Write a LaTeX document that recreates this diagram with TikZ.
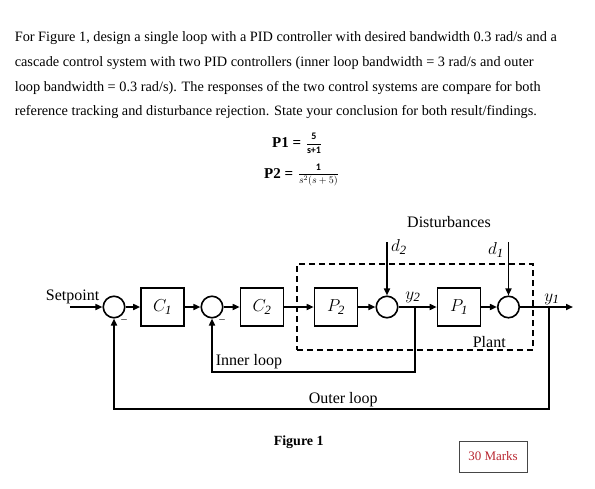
\documentclass[tikz,border=0pt]{standalone}
\usepackage{amsmath}
\usepackage{fontspec}
\setmainfont{Liberation Serif}
\newfontfamily\carlito{Carlito}
\usepackage{tikz}
\usetikzlibrary{
    arrows.meta,
    positioning
}
\usepackage{xcolor}
\definecolor{markred}{RGB}{185,40,50}
\definecolor{markgray}{RGB}{70,70,70}

\begin{document}
\begin{tikzpicture}[
        x=1pt, y=-1pt,
        line width=1.6pt,
        >={Triangle[length=7pt,width=6pt]},
        block/.style={
            draw,
            minimum width=43pt,
            minimum height=38pt,
            inner sep=0pt,
            font=\fontsize{18}{18}\selectfont
        },
        summer/.style={
            draw,
            circle,
            minimum size=21.5pt,
            inner sep=0pt
        },
        lbl/.style={
            inner sep=0pt,
            font=\fontsize{16}{16}\selectfont
        },
        para/.style={
            anchor=base west,
            inner sep=0pt,
            font=\fontsize{14.3}{16}\selectfont
        }
    ]
    \useasboundingbox (0,0) rectangle (595,488);

    % question text
    \node[para] (line1) at (14,41.7) {For Figure 1, design a single loop with a PID controller with desired bandwidth 0.3 rad/s and a};
    \node[para] (line2) at (14,66.7) {cascade control system with two PID controllers (inner loop bandwidth = 3 rad/s and outer};
    \node[para] (line3) at (14,91.7) {loop bandwidth = 0.3 rad/s). The responses of the two control systems are compare for both};
    \node[para] (line4) at (14,115.7) {reference tracking and disturbance rejection. State your conclusion for both result/findings.};

    % plant transfer functions
    \node[inner sep=0pt, font=\bfseries\fontsize{15}{15}\selectfont, anchor=base east] (p1eq) at (302,147) {P1 =};
    \node[inner sep=0pt, anchor=west] (p1frac) at (305,143.5) {\fontsize{10}{10}\selectfont
        $\dfrac{\text{\carlito\bfseries 5}}{\text{\carlito\bfseries s+1}}$};
    \node[inner sep=0pt, font=\bfseries\fontsize{15}{15}\selectfont, anchor=base east] (p2eq) at (294,178) {P2 =};
    \node[inner sep=0pt, anchor=west] (p2frac) at (297,175) {\fontsize{10}{10}\selectfont
        $\dfrac{\text{\carlito\bfseries 1}}{s^2(s+5)}$};

    % block diagram
    \node[draw, dashed, dash pattern=on 6pt off 4pt, minimum width=236pt, minimum height=86pt] (plantbox) at (415,307) {};

    \node[summer] (s1) at (114,307) {};
    \node[block] (c1) at (162.5,307) {$C_{\mathit{1}}$};
    \node[summer] (s2) at (212,307) {};
    \node[block] (c2) at (262,307) {$C_{\mathit{2}}$};
    \node[block] (p2) at (336,307) {$P_{\mathit{2}}$};
    \node[summer] (s3) at (387,307) {};
    \node[block] (p1) at (459,307) {$P_{\mathit{1}}$};
    \node[summer] (s4) at (508.5,307) {};

    \coordinate (in) at (70,307);
    \coordinate (out) at (573,307);
    \coordinate (y2) at (415,307);
    \coordinate (y1) at (549,307);
    \coordinate (d2) at (387,242);
    \coordinate (d1) at (508.5,242);

    \draw[->] (in) -- (s1);
    \draw[->] (s1) -- (c1);
    \draw[->] (c1) -- (s2);
    \draw[->] (s2) -- (c2);
    \draw[->] (c2) -- (p2);
    \draw[->] (p2) -- (s3);
    \draw[->] (s3) -- (p1);
    \draw[->] (p1) -- (s4);
    \draw[->] (s4) -- (out);
    \draw[->] (d2) -- (s3);
    \draw[->] (d1) -- (s4);
    \draw[->] (y2) -- ++(0,65) -| (s2);
    \draw[->] (y1) -- ++(0,102) -| (s1);

    \node[lbl, font=\fontsize{11}{11}\selectfont] (minus1) at (124,321) {--};
    \node[lbl, font=\fontsize{11}{11}\selectfont] (minus2) at (222,321) {--};

    \node[lbl, anchor=base east] (setpoint) at (100,300) {Setpoint};
    \node[lbl, anchor=base] (dist) at (449,227) {Disturbances};
    \node[lbl, anchor=base west] (inner) at (215,365) {Inner loop};
    \node[lbl, anchor=base west] (outer) at (308,403) {Outer loop};
    \node[lbl, anchor=base west] (plant) at (472,347) {Plant};
    \node[lbl, font=\fontsize{18}{18}\selectfont] (d2lab) at (399,247) {$d_{\mathit{2}}$};
    \node[lbl, font=\fontsize{18}{18}\selectfont] (d1lab) at (496,250) {$d_{\mathit{1}}$};
    \node[lbl, font=\fontsize{18}{18}\selectfont] (y2lab) at (413,297) {$y_{\mathit{2}}$};
    \node[lbl, font=\fontsize{18}{18}\selectfont] (y1lab) at (552,299) {$y_{\mathit{1}}$};

    \node[inner sep=0pt, font=\bfseries\fontsize{14}{14}\selectfont, anchor=base west] (fig) at (273,445) {Figure 1};
    \node[draw=markgray, line width=1pt, minimum width=68pt, minimum height=31pt, text=markred,
        font=\fontsize{13}{13}\selectfont] (marks) at (493,456.5) {30 Marks};
\end{tikzpicture}
\end{document}
